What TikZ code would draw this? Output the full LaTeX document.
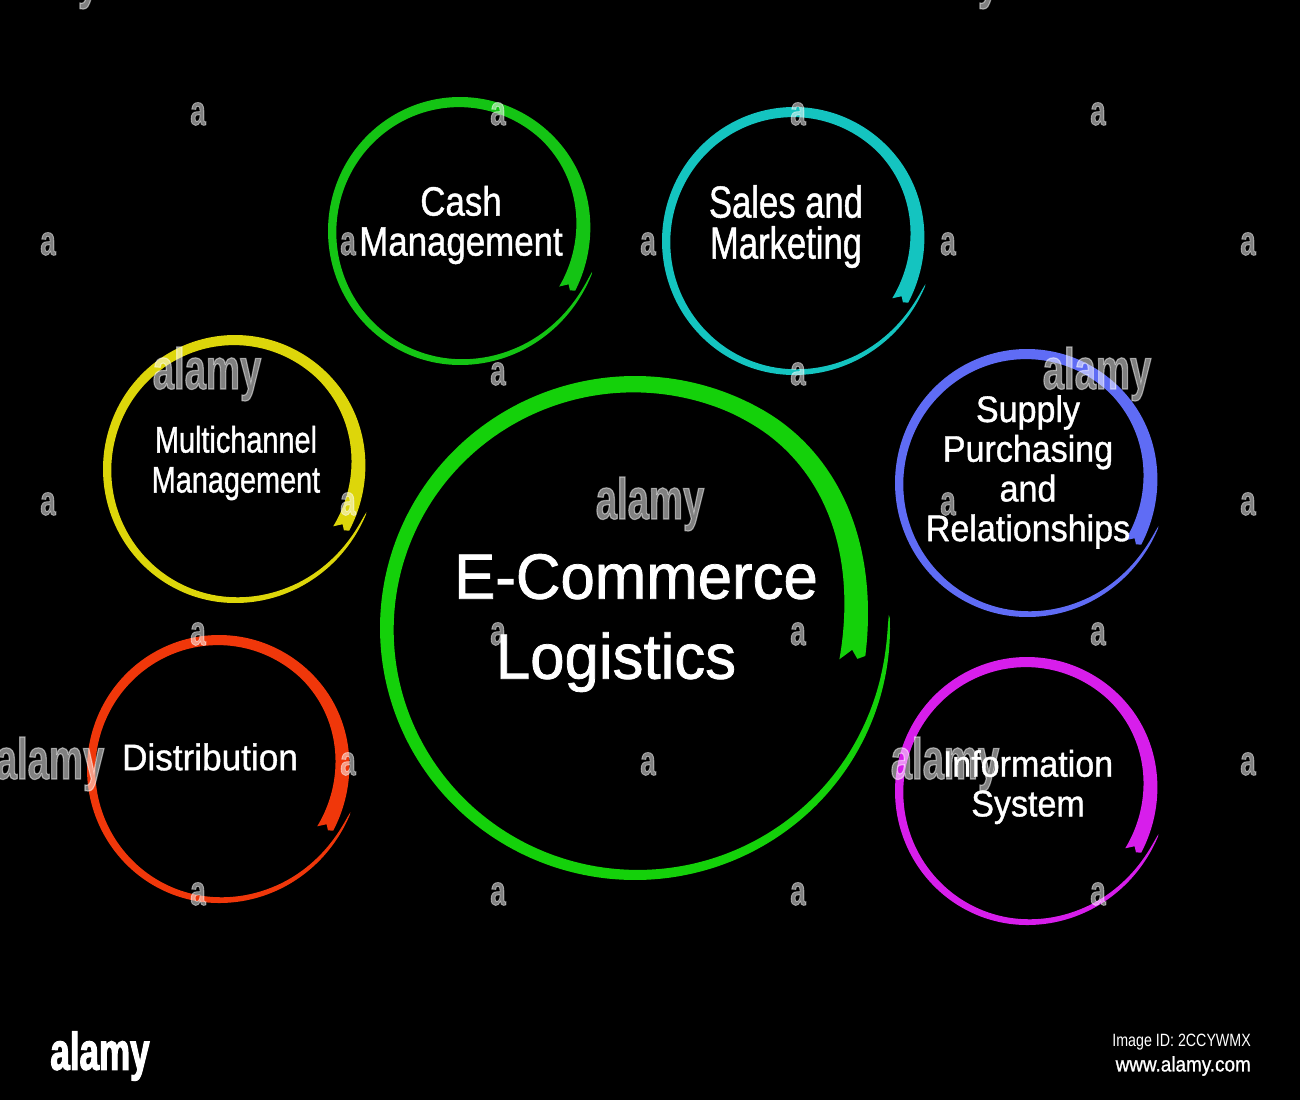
\documentclass[tikz,border=0pt]{standalone}
\usepackage{fontspec}
\setmainfont{Liberation Sans}
\newfontfamily\mainfont[FakeStretch=0.965,FakeBold=1.2]{Liberation Sans}
\newfontfamily\cashfont[FakeStretch=0.85,FakeBold=1]{Liberation Sans}
\newfontfamily\salesfont[FakeStretch=0.77,FakeBold=1]{Liberation Sans}
\newfontfamily\multifont[FakeStretch=0.78,FakeBold=1]{Liberation Sans}
\newfontfamily\distfont[FakeStretch=0.95,FakeBold=1]{Liberation Sans}
\newfontfamily\supplyfont[FakeStretch=0.92,FakeBold=1]{Liberation Sans}
\newfontfamily\markfont[FakeStretch=0.66,FakeBold=2]{Liberation Sans Bold}
\newfontfamily\idfont[FakeStretch=0.8]{Liberation Sans}
\newfontfamily\webfont[FakeStretch=0.9,FakeBold=1]{Liberation Sans}
\definecolor{mainGreen}{HTML}{14D10A}
\definecolor{cashGreen}{HTML}{14C414}
\definecolor{salesTeal}{HTML}{14C4C0}
\definecolor{multiYellow}{HTML}{DDD60A}
\definecolor{distRed}{HTML}{F0370A}
\definecolor{supplyBlue}{HTML}{5F6CF5}
\definecolor{infoMagenta}{HTML}{D71EEB}
\tikzset{
    declare function={
        brushin(\t,\d,\f)=1-\d*0.5*(1+cos(180*min(1,max(0,\t)/0.18)))+\f*pow(max(0,\t-0.8)/0.2,2);
        brushw(\t)=0.75*pow(1.001-\t,0.45)+0.25*max(0,1-\t/0.2);
    },
    label/.style={text=white, inner sep=0pt, align=center},
    wmbig/.style={text=white, opacity=0.5, inner sep=0pt, font=\markfont\fontsize{58}{58}\selectfont},
    wmsmall/.style={text=white, opacity=0.5, inner sep=0pt, font=\markfont\fontsize{42}{42}\selectfont},
}
% cx, cy, rx, ry, start angle, width, inward share, outward flare, colour
\newcommand{\brushring}[9]{
    \fill[#9] plot[domain=0:1, samples=150, smooth]
        ({#1+#3*brushin(\x,#7,#8)*cos(#5+370*\x)}, {#2-#4*brushin(\x,#7,#8)*sin(#5+370*\x)})
        -- plot[domain=1:-0.006, samples=150, smooth]
        ({#1+(#3*brushin(\x,#7,#8)-#6*brushw(\x))*cos(#5+370*\x)}, {#2-(#4*brushin(\x,#7,#8)-#6*brushw(\x))*sin(#5+370*\x)})
        -- ({#1+(#3*brushin(0,#7,#8)-0.55*#6)*cos(#5+1.2)}, {#2-(#4*brushin(0,#7,#8)-0.55*#6)*sin(#5+1.2)})
        -- ({#1+(#3*brushin(0,#7,#8)-0.3*#6)*cos(#5-1)}, {#2-(#4*brushin(0,#7,#8)-0.3*#6)*sin(#5-1)})
        -- cycle;
}
\begin{document}
\begin{tikzpicture}[x=1pt, y=-1pt]
    \useasboundingbox (0,0) rectangle (1300,1100);
    \fill[black] (0,0) rectangle (1300,1100);
    \clip (0,0) rectangle (1300,1100);

    \brushring{635}{628}{255}{252}{-7}{25}{0.09}{0}{mainGreen}
    \brushring{460}{231}{132}{134}{-27}{16}{0.02}{0.05}{cashGreen}
    \brushring{794}{241}{132}{134}{-28}{16}{0.02}{0.05}{salesTeal}
    \brushring{235}{469}{132}{134}{-28}{16}{0.02}{0.05}{multiYellow}
    \brushring{219}{769}{132}{134}{-28}{16}{0.02}{0.05}{distRed}
    \brushring{1027}{483}{132}{134}{-28}{16}{0.02}{0.05}{supplyBlue}
    \brushring{1027}{791}{132}{134}{-28}{16}{0.02}{0.05}{infoMagenta}

    % repeated marks
    \foreach \x/\y in {198/114,498/114,798/114,1098/114,498/374,798/374,
                       198/634,498/634,798/634,1098/634,198/894,498/894,798/894,1098/894,
                       48/244,348/244,648/244,948/244,1248/244,48/504,348/504,948/504,1248/504,
                       348/764,648/764,1248/764,48/1024,348/1024,648/1024,948/1024,1248/1024}
        \node[wmsmall] (a\x\y) at (\x,\y) {a};
    \foreach \x/\y in {207/374, 1097/374, 650/504, 50/764, 945/764, 45/-18, 945/-18}
        \node[wmbig] (w\x\y) at (\x,\y) {alamy};
    \fill[black] (0,1011) rectangle (1300,1100);

    \node[label, font=\mainfont\fontsize{64}{80}\selectfont] (main) at (636,623)
        {E-Commerce\\Logistics\hspace*{40pt}};
    \node[label, font=\cashfont\fontsize{41}{40}\selectfont] (cash) at (461,225) {Cash\\Management};
    \node[label, font=\salesfont\fontsize{45}{41}\selectfont] (sales) at (786,226.5) {Sales and\\Marketing};
    \node[label, font=\multifont\fontsize{37}{40}\selectfont] (multi) at (236,463) {Multichannel\\Management};
    \node[label, font=\distfont\fontsize{37}{39.7}\selectfont] (dist) at (210,757) {Distribution};
    \node[label, font=\supplyfont\fontsize{37}{39.7}\selectfont] (supply) at (1028,472)
        {Supply\\Purchasing\\and\\Relationships};
    \node[label, font=\supplyfont\fontsize{37}{39.7}\selectfont] (info) at (1028,787) {Information\\System};

    \node[text=white, inner sep=0pt, font=\markfont\fontsize{53}{53}\selectfont] (logo) at (100,1056) {alamy};
    \node[text=white, inner sep=0pt, anchor=east, font=\idfont\fontsize{17.8}{17.8}\selectfont] (imgid) at (1251,1042) {Image ID: 2CCYWMX};
    \node[text=white, inner sep=0pt, anchor=east, font=\webfont\fontsize{21}{21}\selectfont] (web) at (1251,1066) {www.alamy.com};
\end{tikzpicture}
\end{document}
